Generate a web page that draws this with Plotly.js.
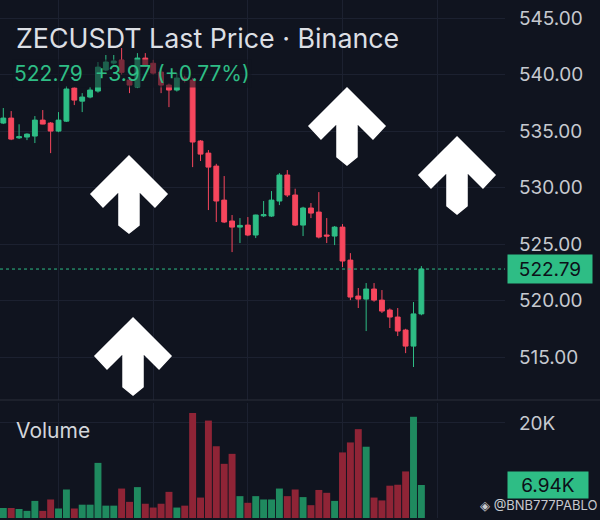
<!DOCTYPE html>
<html>
<head>
<meta charset="utf-8">
<script src="https://cdn.plot.ly/plotly-3.0.1.min.js"></script>
<style>
  html, body { margin: 0; padding: 0; background: #10141f; }
  #chart { width: 600px; height: 520px; }
</style>
</head>
<body>
<div id="chart"></div>
<script>
// ZECUSDT candles (oldest first)
var open = [535.71, 536.15, 534.40, 534.47, 534.56, 535.97, 535.71, 535.00, 535.88, 538.81,
            537.65, 538.01, 538.54, 540.40, 541.02, 541.28, 539.51, 538.89, 541.46, 541.00,
            540.22, 539.07, 538.63, 539.69, 539.51, 534.12, 533.05, 531.90, 528.89, 527.04,
            526.50, 526.68, 525.80, 527.50, 527.48, 528.81, 531.11, 529.34, 526.68, 528.19,
            527.83, 525.80, 525.71, 526.50, 523.58, 520.40, 520.13, 521.02, 520.04, 519.16,
            518.54, 517.39, 515.97, 518.82];
var high = [537.04, 536.77, 535.60, 534.80, 536.33, 536.86, 535.80, 536.68, 538.98, 538.89,
            538.36, 538.89, 541.11, 541.73, 541.73, 542.35, 539.70, 541.90, 541.90, 541.30,
            540.40, 539.20, 540.13, 539.90, 539.69, 534.20, 533.32, 532.10, 531.02, 527.57,
            527.30, 527.39, 527.60, 528.81, 529.69, 531.28, 531.55, 529.90, 528.30, 528.63,
            529.60, 527.30, 526.60, 526.77, 524.20, 521.11, 521.55, 521.55, 520.93, 519.30,
            519.34, 517.50, 519.87, 523.05];
var low = [535.62, 534.20, 534.30, 534.20, 533.94, 535.60, 533.05, 534.90, 535.80, 537.30,
           536.68, 537.90, 538.40, 540.30, 540.90, 540.00, 538.36, 538.80, 540.70, 540.00,
           538.36, 537.12, 538.50, 539.30, 531.81, 532.35, 528.01, 526.95, 526.86, 524.29,
           525.09, 525.70, 525.53, 527.39, 527.40, 528.45, 529.16, 526.60, 525.71, 527.30,
           525.50, 525.09, 524.91, 522.96, 520.04, 519.34, 517.30, 519.90, 518.90, 517.57,
           516.86, 515.35, 514.12, 518.70];
var close = [536.15, 534.29, 534.50, 534.73, 535.97, 535.62, 535.00, 535.97, 538.72, 537.74,
             538.01, 538.63, 540.66, 541.11, 541.20, 540.20, 539.07, 541.46, 540.84, 540.13,
             539.07, 538.63, 539.69, 539.50, 534.03, 532.96, 531.81, 528.81, 526.95, 526.50,
             526.65, 525.80, 527.57, 527.60, 528.89, 531.11, 529.34, 526.68, 528.19, 527.74,
             525.62, 525.71, 526.50, 523.50, 520.31, 520.13, 521.02, 520.04, 519.07, 518.54,
             517.30, 515.97, 518.82, 522.79];
// volume in thousands
var volume = [2.1, 2.1, 1.9, 1.5, 3.6, 1.5, 3.9, 2.0, 6.0, 2.0,
              2.8, 2.8, 11.6, 2.6, 2.6, 6.2, 3.4, 6.5, 3.0, 2.2,
              3.0, 5.5, 2.2, 2.6, 22.1, 4.3, 20.5, 15.1, 11.4, 13.5,
              4.6, 3.2, 4.6, 3.9, 3.9, 6.2, 4.6, 6.0, 4.4, 2.7,
              5.9, 5.3, 3.6, 13.8, 15.9, 18.7, 15.0, 4.3, 3.7, 6.8,
              7.0, 9.8, 21.3, 6.94];
var priceTicks = [515, 520, 525, 530, 535, 540, 545];
var lastPrice = 522.79;
var lastVolume = 6.94;

var UP = '#2ebd85', DOWN = '#f6465d';
var BG = '#10141f', GRID = '#1c2130';
var FONT = 'Inter, Roboto, sans-serif';

var x = open.map(function (_, i) { return i; });
var volColors = close.map(function (c, i) { return c >= open[i] ? '#1f8a5f' : '#8f2436'; });

// plot area is 505 x 518 px (margins r=95, b=2)
var PW = 505, PH = 518;
function px(v) { return v / PW; }
function py(v) { return 1 - v / PH; }

// white up-arrow decorations
function arrowPath(tx, ty) {
  var pts = [[0, 0], [38, 38], [26, 51], [10, 35], [10, 69], [0, 77],
             [-10, 69], [-10, 35], [-26, 51], [-38, 38]];
  return pts.map(function (p, i) {
    return (i ? 'L' : 'M') + px(tx + p[0]).toFixed(4) + ',' + py(ty + p[1]).toFixed(4);
  }).join(' ') + ' Z';
}
var arrows = [[129, 156], [347, 88], [457, 137], [133, 318]].map(function (a) {
  return {
    type: 'path', xref: 'paper', yref: 'paper', path: arrowPath(a[0], a[1]),
    fillcolor: '#ffffff', line: { color: '#ffffff', width: 1.5 }, layer: 'above'
  };
});

var candles = {
  type: 'candlestick',
  x: x, open: open, high: high, low: low, close: close,
  xaxis: 'x', yaxis: 'y',
  increasing: { line: { color: UP, width: 1 }, fillcolor: UP },
  decreasing: { line: { color: DOWN, width: 1 }, fillcolor: DOWN },
  whiskerwidth: 0,
  hoverinfo: 'none'
};

var vols = {
  type: 'bar', x: x, y: volume,
  xaxis: 'x2', yaxis: 'y2',
  marker: { color: volColors, line: { width: 0 } },
  hoverinfo: 'none'
};

var tickFont = { family: FONT, size: 19, color: '#c6c9cf' };

var layout = {
  width: 600, height: 520,
  margin: { l: 0, r: 95, t: 0, b: 2 },
  paper_bgcolor: BG, plot_bgcolor: BG,
  showlegend: false,
  boxgap: 0.12,
  bargap: 0.12,
  xaxis: {
    anchor: 'y', range: [-0.42, 63.6], rangeslider: { visible: false },
    tickmode: 'linear', tick0: 7, dtick: 12, showticklabels: false,
    showgrid: true, gridcolor: GRID, zeroline: false, showline: false, fixedrange: true
  },
  xaxis2: {
    anchor: 'y2', matches: 'x',
    tickmode: 'linear', tick0: 7, dtick: 12, showticklabels: false,
    showgrid: true, gridcolor: GRID, zeroline: false, showline: false
  },
  yaxis: {
    domain: [118 / PH, 1], range: [511.2, 546.6], side: 'right',
    tickvals: priceTicks, tickformat: '.2f', tickfont: tickFont,
    ticks: '', ticklabelstandoff: 13,
    showgrid: true, gridcolor: GRID, zeroline: false, showline: false
  },
  yaxis2: {
    domain: [0, 115 / PH], range: [0, 24.2], side: 'right',
    tickvals: [20], ticktext: ['20K'], tickfont: tickFont,
    ticks: '', ticklabelstandoff: 13,
    showgrid: true, gridcolor: GRID, zeroline: false, showline: false
  },
  shapes: [
    { type: 'line', xref: 'paper', yref: 'paper', x0: 0, x1: 600 / PW, y0: py(400), y1: py(400),
      line: { color: '#2a2f3b', width: 1 } },
    { type: 'line', xref: 'paper', yref: 'y', x0: 0, x1: 1, y0: lastPrice, y1: lastPrice,
      line: { color: UP, width: 1, dash: 'dot' } }
  ].concat(arrows),
  annotations: [
    { xref: 'paper', yref: 'paper', x: px(14), y: py(38), xanchor: 'left', yanchor: 'middle',
      text: 'ZECUSDT Last Price · Binance', showarrow: false,
      font: { family: FONT, size: 26.8, color: '#dcdfe4' } },
    { xref: 'paper', yref: 'paper', x: px(12), y: py(73), xanchor: 'left', yanchor: 'middle',
      text: lastPrice.toFixed(2) + '  +3.97 (+0.77%)', showarrow: false,
      bgcolor: 'rgba(16,20,31,0.55)', borderpad: 1,
      font: { family: FONT, size: 21, color: UP } },
    { xref: 'paper', yref: 'paper', x: px(14), y: py(430), xanchor: 'left', yanchor: 'middle',
      text: 'Volume', showarrow: false,
      font: { family: FONT, size: 21, color: '#d3d6db' } },
    { xref: 'paper', yref: 'y', x: px(507), y: lastPrice, xanchor: 'left', yanchor: 'middle',
      text: lastPrice.toFixed(2), showarrow: false, bgcolor: UP, width: 80, height: 24,
      borderpad: 2, align: 'center',
      font: { family: FONT, size: 19, color: '#0c1018' } },
    { xref: 'paper', yref: 'y2', x: px(507), y: lastVolume, xanchor: 'left', yanchor: 'middle',
      text: lastVolume.toFixed(2) + 'K', showarrow: false, bgcolor: UP, width: 76, height: 22,
      borderpad: 2, align: 'center',
      font: { family: FONT, size: 19, color: '#0c1018' } },
    { xref: 'paper', yref: 'paper', x: px(478), y: py(505), xanchor: 'left', yanchor: 'middle',
      text: '◈ @BNB777PABLO', showarrow: false,
      font: { family: FONT, size: 13, color: 'rgba(235,236,240,0.85)' } }
  ]
};

Plotly.newPlot('chart', [candles, vols], layout, { displayModeBar: false, staticPlot: true });
</script>
</body>
</html>
